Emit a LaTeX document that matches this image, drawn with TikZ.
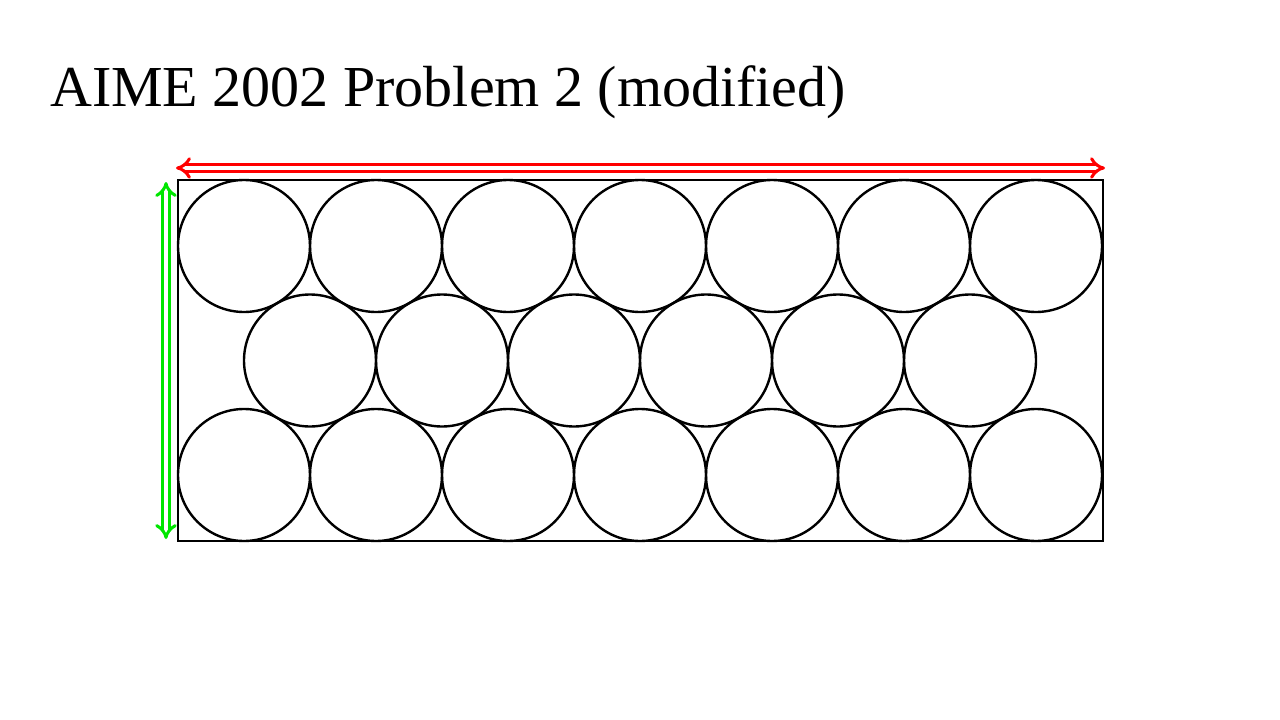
\documentclass[tikz,border=0pt]{standalone}
\usepackage{fontspec}
\setmainfont{Liberation Serif}
\usetikzlibrary{arrows.meta}
\begin{document}
\begin{tikzpicture}[x=1pt,y=-1pt,
  ball/.style={draw=black,line width=2.4pt},
  frame/.style={draw=black,line width=2.4pt},
  dbl/.style={line width=3pt,double=white,double distance=4pt,{Implies}-{Implies}}]
\useasboundingbox (0,0) rectangle (1280,720);
\node[anchor=base west,inner sep=0pt,font=\fontsize{58}{69}\selectfont] (title) at (50,106) {AIME 2002 Problem 2 (modified)};
\draw[frame] (178,180) rectangle (1103,541);
\foreach \i in {0,...,6} {
  \draw[ball] (244+132*\i,246) circle (66);
  \draw[ball] (244+132*\i,475) circle (66);
}
\foreach \i in {0,...,5} {
  \draw[ball] (310+132*\i,360.5) circle (66);
}
\coordinate (rl) at (176,168);
\coordinate (rr) at (1105,168);
\coordinate (gt) at (166,182);
\coordinate (gb) at (166,539);
\draw[dbl,draw=red] (rl) -- (rr);
\draw[dbl,draw={rgb,255:red,0;green,230;blue,0}] (gt) -- (gb);
\end{tikzpicture}
\end{document}
